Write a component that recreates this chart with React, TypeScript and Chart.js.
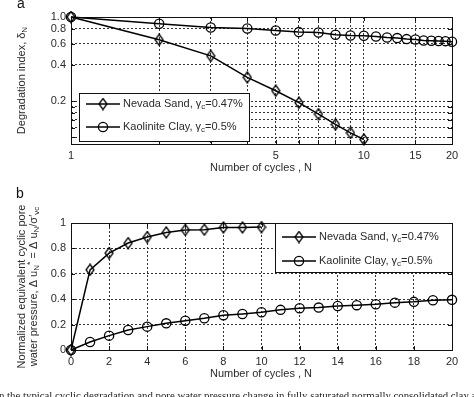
import { useEffect, useRef } from 'react';
import { Chart, registerables } from 'chart.js';
Chart.register(...registerables);

// ---------- data ----------
const cyclesA = [1, 2, 3, 4, 5, 6, 7, 8, 9, 10, 11, 12, 13, 14, 15, 16, 17, 18, 19, 20];
const nevadaDegradation = [1.0, 0.646, 0.475, 0.315, 0.244, 0.194, 0.156, 0.128, 0.109, 0.096];
const kaoliniteDegradation = [1.0, 0.879, 0.819, 0.803, 0.773, 0.749, 0.744, 0.711, 0.702, 0.698, 0.689, 0.675, 0.668, 0.655, 0.65, 0.638, 0.634, 0.632, 0.63, 0.622];
const xTicksA = [1, 2, 3, 4, 5, 6, 7, 8, 9, 10, 15, 20];
const xLabelsA = [1, 5, 10, 15, 20];
const yTicksA = [0.1, 0.12, 0.14, 0.16, 0.18, 0.2, 0.4, 0.6, 0.8, 1.0];
const yLabelsA = [0.2, 0.4, 0.6, 0.8, 1.0];

const cyclesB = [0, 1, 2, 3, 4, 5, 6, 7, 8, 9, 10, 11, 12, 13, 14, 15, 16, 17, 18, 19, 20];
const nevadaPore = [0, 0.631, 0.763, 0.842, 0.889, 0.926, 0.945, 0.947, 0.965, 0.965, 0.968];
const kaolinitePore = [0, 0.063, 0.113, 0.158, 0.184, 0.21, 0.231, 0.25, 0.274, 0.284, 0.297, 0.316, 0.329, 0.334, 0.347, 0.353, 0.36, 0.373, 0.379, 0.392, 0.395];
const xTicksB = [0, 2, 4, 6, 8, 10, 12, 14, 16, 18, 20];
const yTicksB = [0, 0.2, 0.4, 0.6, 0.8, 1];

const FONT = "'Liberation Sans', Arial, sans-serif";
const TXT = '#2a2a2a';

type Part = { t: string; size?: number; dy?: number };

function drawRich(ctx: CanvasRenderingContext2D, parts: Part[], x: number, y: number, base: number, align: 'left' | 'center') {
  let w = 0;
  for (const p of parts) {
    ctx.font = `${p.size ?? base}px ${FONT}`;
    w += ctx.measureText(p.t).width;
  }
  let cx = align === 'center' ? x - w / 2 : x;
  ctx.textAlign = 'left';
  ctx.textBaseline = 'middle';
  for (const p of parts) {
    ctx.font = `${p.size ?? base}px ${FONT}`;
    ctx.fillText(p.t, cx, y + (p.dy ?? 0));
    cx += ctx.measureText(p.t).width;
  }
}

function makeDiamond(w: number, h: number, lw: number) {
  const c = document.createElement('canvas');
  c.width = w + 2;
  c.height = h + 2;
  const ctx = c.getContext('2d')!;
  ctx.strokeStyle = '#000';
  ctx.lineWidth = lw;
  ctx.beginPath();
  ctx.moveTo(c.width / 2, 1);
  ctx.lineTo(c.width - 1, c.height / 2);
  ctx.lineTo(c.width / 2, c.height - 1);
  ctx.lineTo(1, c.height / 2);
  ctx.closePath();
  ctx.stroke();
  return c;
}

const near = (arr: number[], v: number) => arr.some((a) => Math.abs(a - v) < 1e-6);

function boxAndTicks(chart: any, xt: number[], yt: number[]) {
  const ctx = chart.ctx as CanvasRenderingContext2D;
  const { left, right, top, bottom } = chart.chartArea;
  const xs = chart.scales.x;
  const ys = chart.scales.y;
  ctx.save();
  ctx.strokeStyle = '#111';
  ctx.lineWidth = 1;
  ctx.beginPath();
  for (const v of xt) {
    const px = Math.round(xs.getPixelForValue(v)) + 0.5;
    ctx.moveTo(px, bottom);
    ctx.lineTo(px, bottom - 4);
    ctx.moveTo(px, top);
    ctx.lineTo(px, top + 4);
  }
  for (const v of yt) {
    const py = Math.round(ys.getPixelForValue(v)) + 0.5;
    ctx.moveTo(left, py);
    ctx.lineTo(left + 4, py);
    ctx.moveTo(right, py);
    ctx.lineTo(right - 4, py);
  }
  ctx.stroke();
  ctx.strokeRect(Math.round(left) + 0.5, Math.round(top) + 0.5, Math.round(right - left), Math.round(bottom - top));
  ctx.restore();
}

function drawLegend(
  ctx: CanvasRenderingContext2D,
  diamond: HTMLCanvasElement,
  bx: number, by: number, bw: number, bh: number,
  rows: number[], lx1: number, lx2: number, tx: number,
  labels: Part[][]
) {
  ctx.save();
  ctx.fillStyle = '#fff';
  ctx.fillRect(bx, by, bw, bh);
  ctx.strokeStyle = '#111';
  ctx.lineWidth = 1;
  ctx.strokeRect(bx + 0.5, by + 0.5, bw, bh);
  ctx.strokeStyle = '#000';
  ctx.lineWidth = 1.5;
  rows.forEach((ry, i) => {
    ctx.beginPath();
    ctx.moveTo(lx1, ry);
    ctx.lineTo(lx2, ry);
    ctx.stroke();
    const mx = (lx1 + lx2) / 2;
    if (i === 0) {
      ctx.drawImage(diamond, mx - diamond.width / 2, ry - diamond.height / 2);
    } else {
      ctx.lineWidth = 1.3;
      ctx.beginPath();
      ctx.arc(mx, ry, 4.6, 0, Math.PI * 2);
      ctx.stroke();
      ctx.lineWidth = 1.5;
    }
    ctx.fillStyle = TXT;
    drawRich(ctx, labels[i], tx, ry, 11, 'left');
  });
  ctx.restore();
}

const legendNevada: Part[] = [{ t: 'Nevada Sand, γ' }, { t: 'c', size: 8, dy: 3 }, { t: '=0.47%' }];
const legendKaolinite: Part[] = [{ t: 'Kaolinite Clay, γ' }, { t: 'c', size: 8, dy: 3 }, { t: '=0.5%' }];

const gridCommon = { color: '#333', lineWidth: 1, drawTicks: false };
const borderCommon = { display: false, dash: [2, 2] };
const tickFont = { family: FONT, size: 11 };

export default function App() {
  const refA = useRef<HTMLCanvasElement>(null);
  const refB = useRef<HTMLCanvasElement>(null);

  useEffect(() => {
    const diamond = makeDiamond(8, 11, 1.3);

    const lineDs = (data: any[], isDiamond: boolean) => ({
      data,
      borderColor: '#000',
      borderWidth: 1.5,
      pointStyle: isDiamond ? (diamond as any) : 'circle',
      pointRadius: isDiamond ? 5 : 4.6,
      pointBorderWidth: 1.3,
      pointBorderColor: '#000',
      pointBackgroundColor: 'rgba(0,0,0,0)',
      fill: false,
      tension: 0,
      clip: false as any,
    });

    const chartA = new Chart(refA.current!, {
      type: 'line',
      data: {
        datasets: [
          lineDs(cyclesA.slice(0, nevadaDegradation.length).map((x, i) => ({ x, y: nevadaDegradation[i] })), true),
          lineDs(cyclesA.map((x, i) => ({ x, y: kaoliniteDegradation[i] })), false),
        ],
      },
      options: {
        responsive: false,
        animation: false,
        devicePixelRatio: 1,
        layout: { padding: { left: 0, top: 17, right: 22, bottom: 0 } },
        plugins: { legend: { display: false }, tooltip: { enabled: false } },
        scales: {
          x: {
            type: 'logarithmic',
            min: 1,
            max: 20,
            bounds: 'data',
            afterBuildTicks: (s: any) => { s.ticks = xTicksA.map((v) => ({ value: v })); },
            afterFit: (s: any) => { s.height = 41; },
            ticks: {
              autoSkip: false, maxRotation: 0, padding: 5, color: TXT, font: tickFont,
              callback: (v: any) => (near(xLabelsA, Number(v)) ? String(v) : ''),
            },
            grid: gridCommon,
            border: borderCommon,
          },
          y: {
            type: 'logarithmic',
            min: 0.088,
            max: 1.0,
            bounds: 'data',
            afterBuildTicks: (s: any) => { s.ticks = yTicksA.map((v) => ({ value: v })); },
            afterFit: (s: any) => { s.width = 71; },
            ticks: {
              autoSkip: false, padding: 5, color: TXT, font: tickFont,
              callback: (v: any) => (near(yLabelsA, Number(v)) ? Number(v).toFixed(1) : ''),
            },
            grid: gridCommon,
            border: borderCommon,
          },
        },
      } as any,
      plugins: [
        {
          id: 'decorA',
          beforeDatasetsDraw(chart: any) {
            boxAndTicks(chart, xTicksA, yTicksA);
            drawLegend(chart.ctx, diamond, 79, 93, 170, 48, [104, 127], 86, 120, 123, [legendNevada, legendKaolinite]);
          },
          afterDraw(chart: any) {
            const ctx = chart.ctx as CanvasRenderingContext2D;
            ctx.save();
            ctx.fillStyle = TXT;
            drawRich(ctx, [{ t: 'Number of cycles , N' }], 261, 168, 11, 'center');
            ctx.translate(22, 80.5);
            ctx.rotate(-Math.PI / 2);
            drawRich(ctx, [{ t: 'Degradation index, δ' }, { t: 'N', size: 8, dy: 3 }], 0, 0, 11, 'center');
            ctx.restore();
            ctx.save();
            ctx.fillStyle = '#111';
            ctx.font = `14px ${FONT}`;
            ctx.textBaseline = 'alphabetic';
            ctx.fillText('a', 17, 8);
            ctx.restore();
          },
        },
      ],
    });

    const chartB = new Chart(refB.current!, {
      type: 'line',
      data: {
        datasets: [
          lineDs(cyclesB.slice(0, nevadaPore.length).map((x, i) => ({ x, y: nevadaPore[i] })), true),
          lineDs(cyclesB.map((x, i) => ({ x, y: kaolinitePore[i] })), false),
        ],
      },
      options: {
        responsive: false,
        animation: false,
        devicePixelRatio: 1,
        layout: { padding: { left: 0, top: 38, right: 22, bottom: 0 } },
        plugins: { legend: { display: false }, tooltip: { enabled: false } },
        scales: {
          x: {
            type: 'linear',
            min: 0,
            max: 20,
            bounds: 'data',
            afterBuildTicks: (s: any) => { s.ticks = xTicksB.map((v) => ({ value: v })); },
            afterFit: (s: any) => { s.height = 47; },
            ticks: {
              autoSkip: false, maxRotation: 0, padding: 5, color: TXT, font: tickFont,
              callback: (v: any) => String(Math.round(Number(v))),
            },
            grid: gridCommon,
            border: borderCommon,
          },
          y: {
            type: 'linear',
            min: 0,
            max: 1,
            bounds: 'data',
            afterBuildTicks: (s: any) => { s.ticks = yTicksB.map((v) => ({ value: v })); },
            afterFit: (s: any) => { s.width = 71; },
            ticks: {
              autoSkip: false, padding: 5, color: TXT, font: tickFont,
              callback: (v: any) => String(Math.round(Number(v) * 10) / 10),
            },
            grid: gridCommon,
            border: borderCommon,
          },
        },
      } as any,
      plugins: [
        {
          id: 'decorB',
          beforeDatasetsDraw(chart: any) {
            boxAndTicks(chart, xTicksB, yTicksB);
          },
          afterDraw(chart: any) {
            const ctx = chart.ctx as CanvasRenderingContext2D;
            drawLegend(ctx, diamond, 275, 38, 177, 49, [52, 76], 282, 316, 319, [legendNevada, legendKaolinite]);
            ctx.save();
            ctx.fillStyle = TXT;
            drawRich(ctx, [{ t: 'Number of cycles , N' }], 261, 189, 11, 'center');
            ctx.translate(22, 101.5);
            ctx.rotate(-Math.PI / 2);
            drawRich(ctx, [{ t: 'Normalized equivalent cyclic pore' }], 0, 0, 11, 'center');
            drawRich(
              ctx,
              [
                { t: 'water pressure, Δ u' },
                { t: 'N', size: 8, dy: 3 },
                { t: '*', size: 9, dy: -3 },
                { t: ' = Δ u' },
                { t: 'N', size: 8, dy: 3 },
                { t: '/σ\u2032' },
                { t: 'vc', size: 8, dy: 3 },
              ],
              0, 12, 11, 'center'
            );
            ctx.restore();
            ctx.save();
            ctx.fillStyle = '#111';
            ctx.font = `14px ${FONT}`;
            ctx.textBaseline = 'alphabetic';
            ctx.fillText('b', 16, 13);
            ctx.restore();
          },
        },
      ],
    });

    return () => {
      chartA.destroy();
      chartB.destroy();
    };
  }, []);

  return (
    <div style={{ position: 'fixed', left: 0, top: 0, width: 474, height: 397, overflow: 'hidden', background: '#fff' }}>
      <canvas ref={refA} width={474} height={185} style={{ position: 'absolute', left: 0, top: 0, width: 474, height: 185 }} />
      <canvas ref={refB} width={474} height={212} style={{ position: 'absolute', left: 0, top: 185, width: 474, height: 212 }} />
      <div
        style={{
          position: 'absolute',
          left: -1,
          top: 389,
          fontFamily: "'Liberation Serif', 'Times New Roman', serif",
          fontSize: 10.8,
          lineHeight: '12px',
          whiteSpace: 'nowrap',
          color: '#222',
        }}
      >
        n the typical cyclic degradation and pore water pressure change in fully saturated normally consolidated clay and
      </div>
    </div>
  );
}
